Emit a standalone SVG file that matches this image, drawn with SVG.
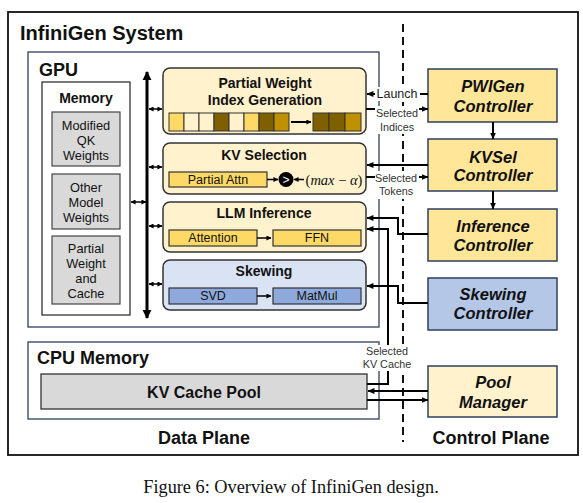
<svg xmlns="http://www.w3.org/2000/svg" width="583" height="503" viewBox="0 0 583 503">
<style>
text{font-family:"Liberation Sans",Arial,sans-serif;dominant-baseline:central;text-anchor:middle;fill:#111}
.b{font-weight:bold}
.ctl{font-weight:bold;font-style:italic;font-size:16.5px}
.mod{fill:#FFF2CC;stroke:#333;stroke-width:1.5}
.skw{fill:#DAE3F3;stroke:#333;stroke-width:1.5}
.sub{fill:#FFD966;stroke:#333;stroke-width:1.2}
.subb{fill:#8EA9DB;stroke:#333;stroke-width:1.2}
.gray{fill:#D9D9D9;stroke:#444;stroke-width:1.2}
.region{fill:#fff;stroke:#2E3F5C;stroke-width:1.3}
.c{fill:#FFE699;stroke:#2E3F5C;stroke-width:1.5}
.conn{fill:none;stroke:#000;stroke-width:2}
.lbl{font-size:10.8px;fill:#333}
.sq{stroke:#333;stroke-width:1}
.g{font-size:12.8px}
</style>
<defs>
<marker id="ah" viewBox="0 0 8 7" refX="7.5" refY="3.5" markerWidth="7" markerHeight="6" markerUnits="userSpaceOnUse" orient="auto-start-reverse"><path d="M0,0 L8,3.5 L0,7 z" fill="#000"/></marker>
<marker id="big" viewBox="0 0 10 10" refX="9" refY="5" markerWidth="9" markerHeight="10" markerUnits="userSpaceOnUse" orient="auto-start-reverse"><path d="M0,0 L10,5 L0,10 z" fill="#000"/></marker>
<marker id="sm" viewBox="0 0 6 6" refX="5.5" refY="3" markerWidth="5" markerHeight="5" markerUnits="userSpaceOnUse" orient="auto-start-reverse"><path d="M0,0 L6,3 L0,6 z" fill="#000"/></marker>
</defs>
<rect width="583" height="503" fill="#fff"/>
<g id="system">
<rect x="8" y="12" width="570" height="443" fill="#fff" stroke="#111" stroke-width="1.8"/>
<text x="20" y="33" class="b" style="font-size:20px;text-anchor:start">InfiniGen System</text>
</g>
<g id="gpu">
<rect class="region" x="28" y="52" width="351" height="275"/>
<text x="39" y="70" class="b" style="font-size:18px;text-anchor:start">GPU</text>
</g>
<g id="memory">
<rect x="42" y="82" width="88" height="233" fill="#fff" stroke="#333" stroke-width="1.3"/>
<text x="86" y="98" class="b" style="font-size:14px">Memory</text>
<rect class="gray" x="52" y="112" width="68" height="54"/>
<text x="86" y="125" class="g">Modified</text>
<text x="86" y="140" class="g">QK</text>
<text x="86" y="155" class="g">Weights</text>
<rect class="gray" x="52" y="174" width="68" height="55"/>
<text x="86" y="187" class="g">Other</text>
<text x="86" y="202" class="g">Model</text>
<text x="86" y="217" class="g">Weights</text>
<rect class="gray" x="52" y="236" width="68" height="68"/>
<text x="86" y="248" class="g">Partial</text>
<text x="86" y="263" class="g">Weight</text>
<text x="86" y="278" class="g">and</text>
<text x="86" y="293" class="g">Cache</text>
</g>
<g id="pwig">
<rect class="mod" x="163" y="68" width="203" height="66" rx="7"/>
<text x="265" y="83" class="b" style="font-size:14px">Partial Weight</text>
<text x="265" y="100" class="b" style="font-size:14px">Index Generation</text>
<rect class="sq" x="169" y="113" width="15" height="18" fill="#FFD966"/>
<rect class="sq" x="184" y="113" width="15" height="18" fill="#FFF2CC"/>
<rect class="sq" x="199" y="113" width="15" height="18" fill="#FFF2CC"/>
<rect class="sq" x="214" y="113" width="15" height="18" fill="#7F6000"/>
<rect class="sq" x="229" y="113" width="15" height="18" fill="#FFF2CC"/>
<rect class="sq" x="244" y="113" width="15" height="18" fill="#FFD966"/>
<rect class="sq" x="259" y="113" width="15" height="18" fill="#7F6000"/>
<rect class="sq" x="274" y="113" width="15" height="18" fill="#BF9000"/>
<line x1="291" y1="122" x2="311" y2="122" stroke="#000" stroke-width="2" marker-end="url(#sm)"/>
<rect class="sq" x="313" y="113" width="16" height="18" fill="#7F6000"/>
<rect class="sq" x="329" y="113" width="16" height="18" fill="#7F6000"/>
<rect class="sq" x="345" y="113" width="16" height="18" fill="#BF9000"/>
</g>
<g id="kvsel">
<rect class="mod" x="163" y="143" width="203" height="51" rx="7"/>
<text x="264" y="155" class="b" style="font-size:14px">KV Selection</text>
<rect class="sub" x="169" y="172" width="98" height="15"/>
<text x="218" y="179.5" style="font-size:12.5px">Partial Attn</text>
<line x1="267" y1="179.5" x2="278" y2="179.5" stroke="#000" stroke-width="1.5" marker-end="url(#sm)"/>
<circle cx="286" cy="179.5" r="7.5" fill="#000"/>
<text x="286" y="179.5" style="font-size:12px;fill:#fff">&gt;</text>
<line x1="304" y1="179.5" x2="294" y2="179.5" stroke="#000" stroke-width="1.5" marker-end="url(#sm)"/>
<text x="334" y="179.5" style="font-family:'Liberation Serif','Times New Roman',serif;font-size:14.5px">(<tspan font-style="italic">max</tspan> − <tspan font-style="italic">α</tspan>)</text>
</g>
<g id="llm">
<rect class="mod" x="163" y="202" width="203" height="50" rx="7"/>
<text x="264" y="213" class="b" style="font-size:14px">LLM Inference</text>
<rect class="sub" x="169" y="230" width="88" height="16"/>
<text x="213" y="238" style="font-size:12.5px">Attention</text>
<rect class="sub" x="273" y="230" width="88" height="16"/>
<text x="317" y="238" style="font-size:12.5px">FFN</text>
<line x1="257" y1="238" x2="271" y2="238" stroke="#000" stroke-width="1.5" marker-end="url(#sm)"/>
</g>
<g id="skewing">
<rect class="skw" x="163" y="260" width="203" height="50" rx="7"/>
<text x="264" y="271" class="b" style="font-size:14px">Skewing</text>
<rect class="subb" x="169" y="288" width="88" height="16"/>
<text x="213" y="296" style="font-size:12.5px">SVD</text>
<rect class="subb" x="273" y="288" width="88" height="16"/>
<text x="317" y="296" style="font-size:12.5px">MatMul</text>
<line x1="257" y1="296" x2="271" y2="296" stroke="#000" stroke-width="1.5" marker-end="url(#sm)"/>
</g>
<g id="cpu">
<rect class="region" x="28" y="342" width="351" height="77"/>
<text x="37" y="358" class="b" style="font-size:18px;text-anchor:start">CPU Memory</text>
</g>
<g id="kvpool">
<rect x="41" y="374" width="326" height="35" fill="#D9D9D9" stroke="#333" stroke-width="1.3"/>
<text x="204" y="392" class="b" style="font-size:16px">KV Cache Pool</text>
</g>
<g id="planes">
<text x="204" y="438" class="b" style="font-size:18px">Data Plane</text>
<text x="491" y="438" class="b" style="font-size:18px">Control Plane</text>
<line x1="403" y1="24" x2="403" y2="442" stroke="#111" stroke-width="2" stroke-dasharray="8,5"/>
</g>
<g id="pwigen-ctl">
<rect class="c" x="428" y="69" width="129" height="53"/>
<text x="493" y="86" class="ctl">PWIGen</text>
<text x="493" y="106" class="ctl">Controller</text>
</g>
<g id="kvsel-ctl">
<rect class="c" x="428" y="139" width="129" height="52"/>
<text x="493" y="157" class="ctl">KVSel</text>
<text x="493" y="175" class="ctl">Controller</text>
</g>
<g id="inference-ctl">
<rect class="c" x="428" y="209" width="129" height="52"/>
<text x="493" y="226" class="ctl">Inference</text>
<text x="493" y="245" class="ctl">Controller</text>
</g>
<g id="skewing-ctl">
<rect x="428" y="278" width="129" height="52" fill="#B4C7E7" stroke="#2E3F5C" stroke-width="1.5"/>
<text x="493" y="294" class="ctl">Skewing</text>
<text x="493" y="313" class="ctl">Controller</text>
</g>
<g id="pool-mgr">
<rect x="428" y="366" width="129" height="51" fill="#FFF2CC" stroke="#2E3F5C" stroke-width="1.5"/>
<text x="493" y="382" class="ctl">Pool</text>
<text x="493" y="402" class="ctl">Manager</text>
</g>
<g id="connectors">
<line x1="147" y1="72" x2="147" y2="318" stroke="#000" stroke-width="3" marker-start="url(#big)" marker-end="url(#big)"/>
<line x1="131" y1="202" x2="146" y2="202" stroke="#000" stroke-width="1.5" marker-start="url(#sm)" marker-end="url(#sm)"/>
<line x1="149" y1="109" x2="162" y2="109" stroke="#000" stroke-width="1.5" marker-start="url(#sm)" marker-end="url(#sm)"/>
<line x1="149" y1="167" x2="162" y2="167" stroke="#000" stroke-width="1.5" marker-start="url(#sm)" marker-end="url(#sm)"/>
<line x1="149" y1="226" x2="162" y2="226" stroke="#000" stroke-width="1.5" marker-start="url(#sm)" marker-end="url(#sm)"/>
<line x1="149" y1="284" x2="162" y2="284" stroke="#000" stroke-width="1.5" marker-start="url(#sm)" marker-end="url(#sm)"/>
<path class="conn" d="M428,94 H367" marker-end="url(#ah)"/>
<path class="conn" d="M366,109 H428" marker-end="url(#ah)"/>
<path class="conn" d="M428,165 H367" marker-end="url(#ah)"/>
<path class="conn" d="M366,177 H428" marker-end="url(#ah)"/>
<path class="conn" d="M428,234 H398 V218 H367" marker-end="url(#ah)"/>
<path class="conn" d="M367,384 H388 V229 H367" marker-end="url(#ah)"/>
<path class="conn" d="M428,303 H398 V286 H367" marker-end="url(#ah)"/>
<path class="conn" d="M428,391 H368" marker-end="url(#ah)"/>
<path class="conn" d="M367,400 H428" marker-end="url(#ah)"/>
<path class="conn" d="M493,122 V139" marker-end="url(#ah)"/>
<path class="conn" d="M493,191 V209" marker-end="url(#ah)"/>
</g>
<g id="labels">
<rect x="375" y="87" width="45" height="14" fill="#fff"/>
<text x="397" y="94" style="font-size:12.5px;fill:#222">Launch</text>
<rect x="375" y="106" width="44" height="28" fill="#fff"/>
<text x="397" y="113" class="lbl">Selected</text>
<text x="397" y="127" class="lbl">Indices</text>
<rect x="375" y="171" width="44" height="28" fill="#fff"/>
<text x="396" y="178" class="lbl">Selected</text>
<text x="396" y="191" class="lbl">Tokens</text>
<rect x="364" y="345" width="46" height="26" fill="#fff"/>
<text x="387" y="351" class="lbl">Selected</text>
<text x="387" y="364" class="lbl">KV Cache</text>
</g>
<g id="caption">
<text x="291" y="487" style="font-family:'Liberation Serif','Times New Roman',serif;font-size:18.3px">Figure 6: Overview of InfiniGen design.</text>
</g>
</svg>
